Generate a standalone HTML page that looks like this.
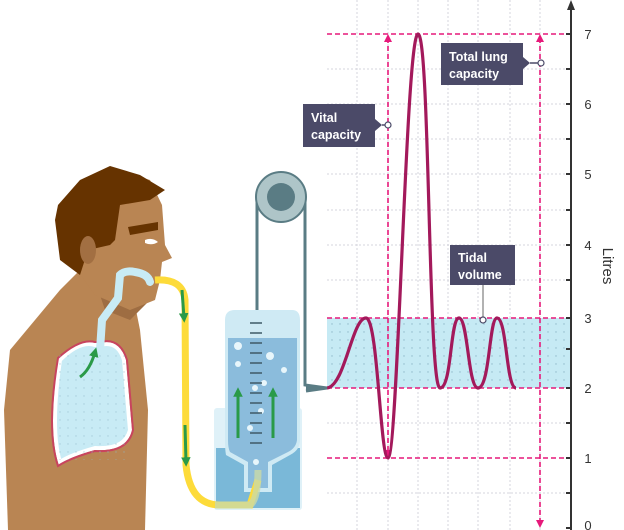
<!DOCTYPE html>
<html><head><meta charset="utf-8"><style>
html,body{margin:0;padding:0;background:#fff;}
svg{display:block;font-family:"Liberation Sans",sans-serif;}
</style></head><body>
<svg width="624" height="530" viewBox="0 0 624 530" xmlns="http://www.w3.org/2000/svg">
<defs>
<pattern id="dots" width="8" height="8" patternUnits="userSpaceOnUse"><circle cx="4" cy="4" r="0.7" fill="#8fb8c8"/></pattern>
<marker id="ah" viewBox="0 0 10 10" refX="5" refY="5" markerWidth="5" markerHeight="5" orient="auto-start-reverse"><path d="M0,0 L10,5 L0,10z" fill="#e6197a"/></marker>
<marker id="ga" viewBox="0 0 10 10" refX="5" refY="5" markerWidth="3.2" markerHeight="3.2" orient="auto"><path d="M0,0 L10,5 L0,10z" fill="#2a9a48"/></marker>
</defs>
<!-- grid -->
<g stroke="#d4d4dc" stroke-width="1" stroke-dasharray="2,2">
<line x1="357" y1="0" x2="357" y2="530"/><line x1="388" y1="0" x2="388" y2="530"/><line x1="418" y1="0" x2="418" y2="530"/><line x1="448" y1="0" x2="448" y2="530"/><line x1="478" y1="0" x2="478" y2="530"/><line x1="510" y1="0" x2="510" y2="530"/><line x1="540" y1="0" x2="540" y2="530"/>
<line x1="327" y1="69" x2="571" y2="69"/><line x1="327" y1="104" x2="571" y2="104"/><line x1="327" y1="139" x2="571" y2="139"/><line x1="327" y1="174" x2="571" y2="174"/><line x1="327" y1="210" x2="571" y2="210"/><line x1="327" y1="245" x2="571" y2="245"/><line x1="327" y1="280" x2="571" y2="280"/><line x1="327" y1="423" x2="571" y2="423"/><line x1="327" y1="493" x2="571" y2="493"/>
</g>
<rect x="327" y="318" width="244" height="70" fill="#c6eaf4"/>
<rect x="327" y="318" width="244" height="70" fill="url(#dots)"/>
<!-- dashed magenta -->
<g stroke="#e6197a" stroke-width="1.6" stroke-dasharray="5,3" fill="none">
<line x1="327" y1="34" x2="571" y2="34"/><line x1="327" y1="318" x2="571" y2="318"/><line x1="327" y1="388" x2="571" y2="388"/><line x1="327" y1="458" x2="571" y2="458"/>
<line x1="388" y1="38" x2="388" y2="454" marker-start="url(#ah)" marker-end="url(#ah)"/>
<line x1="540" y1="38" x2="540" y2="524" marker-start="url(#ah)" marker-end="url(#ah)"/>
</g>
<!-- axis -->
<line x1="571" y1="4" x2="571" y2="530" stroke="#333" stroke-width="2"/>
<path d="M567,10 L571,0 L575,10z" fill="#333"/>
<g stroke="#333" stroke-width="2">
<line x1="566" y1="34" x2="571" y2="34"/><line x1="566" y1="69" x2="571" y2="69"/><line x1="566" y1="104" x2="571" y2="104"/><line x1="566" y1="139" x2="571" y2="139"/><line x1="566" y1="174" x2="571" y2="174"/><line x1="566" y1="210" x2="571" y2="210"/><line x1="566" y1="245" x2="571" y2="245"/><line x1="566" y1="280" x2="571" y2="280"/><line x1="566" y1="318" x2="571" y2="318"/><line x1="566" y1="349" x2="571" y2="349"/><line x1="566" y1="388" x2="571" y2="388"/><line x1="566" y1="423" x2="571" y2="423"/><line x1="566" y1="458" x2="571" y2="458"/><line x1="566" y1="493" x2="571" y2="493"/><line x1="566" y1="528" x2="571" y2="528"/>
</g>
<g font-size="13" fill="#333" text-anchor="middle">
<text x="588" y="39">7</text><text x="588" y="109">6</text><text x="588" y="179">5</text><text x="588" y="250">4</text><text x="588" y="323">3</text><text x="588" y="393">2</text><text x="588" y="463">1</text><text x="588" y="530">0</text>
</g>
<text transform="translate(603,266) rotate(90)" font-size="15" fill="#333" text-anchor="middle">Litres</text>
<!-- curve -->
<path d="M327,388 C345,386 352,318 366,318 C378,318 380,458 388,458 C398,458 406,34 418,34 C430,34 428,388 440,388 C452,388 450,318 459,318 C468,318 468,388 478,388 C490,388 489,318 497,318 C507,318 506,388 516,388" fill="none" stroke="#a3195b" stroke-width="3.2"/>
<!-- labels -->
<g fill="#4b4a68">
<rect x="303" y="104" width="72" height="43"/><path d="M375,119 L382,125 L375,131z"/>
<rect x="441" y="43" width="82" height="42"/><path d="M523,57 L530,63 L523,69z"/>
<rect x="450" y="245" width="65" height="40"/>
</g>
<line x1="382" y1="125" x2="386" y2="125" stroke="#4b4a68" stroke-width="1.5"/>
<line x1="530" y1="63" x2="538" y2="63" stroke="#4b4a68" stroke-width="1.5"/>
<line x1="483" y1="285" x2="483" y2="318" stroke="#999" stroke-width="1.5"/>
<g fill="#fff" stroke="#4b4a68" stroke-width="1.2"><circle cx="388" cy="125" r="3"/><circle cx="541" cy="63" r="3"/><circle cx="483" cy="320" r="3"/></g>
<g fill="#fff" font-size="12.5" font-weight="bold">
<text x="311" y="122">Vital</text><text x="311" y="139">capacity</text>
<text x="449" y="61">Total lung</text><text x="449" y="78">capacity</text>
<text x="458" y="262">Tidal</text><text x="458" y="279">volume</text>
</g>
<!-- pulley -->
<path d="M257,197 L257,312" stroke="#5a7c84" stroke-width="3" fill="none"/>
<path d="M305,197 L305,385 L327,388 L306,391" stroke="#5a7c84" stroke-width="3" fill="#5a7c84"/>
<circle cx="281" cy="197" r="25" fill="#aec5c8" stroke="#5a7c84" stroke-width="2"/>
<circle cx="281" cy="197" r="14" fill="#5a7c84"/>
<!-- beaker -->
<rect x="214" y="408" width="88" height="102" rx="3" fill="#dcf0f7" opacity="0.9"/>
<rect x="216" y="448" width="84" height="60" fill="#7ab8d8"/>
<!-- bottle -->
<path d="M225,320 Q225,310 235,310 L292,310 Q300,310 300,320 L300,440 Q300,450 290,455 L272,465 L272,492 L244,492 L244,465 L226,455 Q225,450 225,440z" fill="#cfeaf4"/>
<path d="M228,338 L297,338 L297,440 Q296,448 288,452 L268,462 L268,488 L248,488 L248,462 L230,452 Q228,448 228,440z" fill="#8bbcdc"/>
<g fill="#e8f6fb"><circle cx="238" cy="346" r="4"/><circle cx="270" cy="356" r="4"/><circle cx="238" cy="364" r="3"/><circle cx="284" cy="370" r="3"/><circle cx="264" cy="383" r="3"/><circle cx="255" cy="388" r="3"/><circle cx="261" cy="411" r="3"/><circle cx="250" cy="428" r="3"/><circle cx="256" cy="462" r="3"/></g>
<g stroke="#3e5a66" stroke-width="1.5"><line x1="250" y1="323" x2="262" y2="323"/><line x1="250" y1="333" x2="262" y2="333"/><line x1="250" y1="343" x2="262" y2="343"/><line x1="250" y1="353" x2="262" y2="353"/><line x1="250" y1="363" x2="262" y2="363"/><line x1="250" y1="373" x2="262" y2="373"/><line x1="250" y1="383" x2="262" y2="383"/><line x1="250" y1="393" x2="262" y2="393"/><line x1="250" y1="403" x2="262" y2="403"/><line x1="250" y1="413" x2="262" y2="413"/><line x1="250" y1="423" x2="262" y2="423"/><line x1="250" y1="433" x2="262" y2="433"/><line x1="250" y1="443" x2="262" y2="443"/></g>
<g stroke="#2a9a48" stroke-width="3" marker-end="url(#ga)"><line x1="238" y1="438" x2="238" y2="392"/><line x1="273" y1="438" x2="273" y2="392"/></g>
<!-- body -->
<path d="M8,530 L4,410 L10,350 L60,290 L85,265 L130,280 L140,330 L148,410 L145,530z" fill="#b98553"/>
<path d="M95,280 L150,300 L130,320 L105,310z" fill="#9e6d42"/>
<!-- head -->
<path d="M70,200 L110,168 L150,180 L162,205 L165,245 L172,258 L162,262 L160,280 L155,300 L130,310 L95,295 L70,260z" fill="#b98553"/>
<path d="M58,205 L80,180 L110,166 L140,175 L165,190 L150,200 L120,205 L115,240 L110,245 L88,250 L80,275 L60,260 L55,220z" fill="#663300"/>
<path d="M128,227 L158,222 L158,230 L130,235z" fill="#663300"/>
<path d="M145,240 Q152,237 158,242 Q152,246 145,243z" fill="#fff"/>
<ellipse cx="88" cy="250" rx="8" ry="14" fill="#a26f42"/>
<!-- lung -->
<path d="M60,360 Q80,340 95,345 L100,345 Q118,340 124,360 L130,430 Q125,450 95,448 Q70,455 60,462 Q50,430 60,360z" fill="#c8ebf5" stroke="#fff" stroke-width="4"/>
<path d="M58,358 Q80,338 95,342 L100,342 Q120,337 127,360 L133,430 Q128,453 95,451 Q70,458 58,466 Q46,430 58,358z" fill="none" stroke="#c8445e" stroke-width="2"/>
<rect x="58" y="350" width="72" height="110" fill="url(#dots)" opacity="0.6"/>
<!-- airway -->
<path d="M100,350 L102,320 L118,298 L120,275 Q125,270 135,272 Q148,274 150,282" fill="none" stroke="#c8ebf5" stroke-width="8" stroke-linecap="round"/>
<path d="M80,377 Q90,370 95,352" fill="none" stroke="#2a9a48" stroke-width="3" marker-end="url(#ga)"/>
<!-- tube -->
<path d="M155,280 Q183,278 185,300 L186,465 Q190,505 220,505 L250,505 L258,480" fill="none" stroke="#fddb3a" stroke-width="7"/>
<path d="M215,505 L250,505 Q258,500 258,470" fill="none" stroke="#c9d9a8" stroke-width="7" opacity="0.8"/>
<g stroke="#2a9a48" stroke-width="3"><line x1="182" y1="290" x2="184" y2="318" marker-end="url(#ga)"/><line x1="185" y1="425" x2="186" y2="462" marker-end="url(#ga)"/></g>
</svg>
</body></html>
